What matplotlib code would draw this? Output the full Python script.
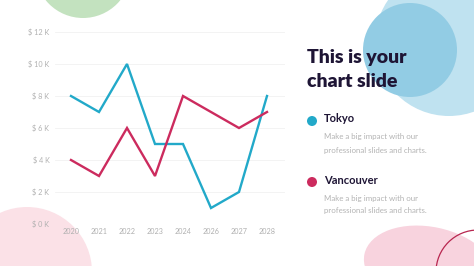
import matplotlib
matplotlib.use("Agg")
import matplotlib.pyplot as plt
from matplotlib.patches import Circle, Ellipse

years = ["2020", "2021", "2022", "2023", "2024", "2026", "2027", "2028"]
tokyo = [8, 7, 10, 5, 5, 1, 2, 8]
vancouver = [4, 3, 6, 3, 8, 7, 6, 7]
y_ticks = [0, 2, 4, 6, 8, 10, 12]
y_labels = ["$ 0 K", "$ 2 K", "$ 4 K", "$ 6 K", "$ 8 K", "$ 10 K", "$ 12 K"]

TOKYO_C = "#22a9c9"
VAN_C = "#cc2b5e"
DARK = "#1e1535"
GRAY = "#b3b3b3"

W, H = 474, 266
fig = plt.figure(figsize=(W / 100, H / 100), dpi=100)
fig.patch.set_facecolor("white")

# background axes in pixel coordinates (y down)
bg = fig.add_axes([0, 0, 1, 1], zorder=0)
bg.set_xlim(0, W)
bg.set_ylim(H, 0)
bg.axis("off")

bg.add_patch(Circle((83, -30), 48, color="#c3e2bf", lw=0))
bg.add_patch(Circle((27, 272), 65, color="#fbe1e7", lw=0))
bg.add_patch(Circle((449, 42), 74, color="#bfe2f0", lw=0))
bg.add_patch(Circle((410, 50), 47, color="#92cce4", lw=0))
bg.add_patch(Ellipse((430, 268), 134, 82, angle=12, color="#f8d3de", lw=0))
bg.add_patch(Circle((478, 272), 42, fill=False, ec="#b8264f", lw=0.9))

# title and legend text
tf = ["Lato", "DejaVu Sans"]
bg.text(307, 63, "This is your", fontsize=14, fontweight="heavy", color=DARK,
        family=tf, va="baseline", ha="left")
bg.text(307, 87, "chart slide", fontsize=14, fontweight="heavy", color=DARK,
        family=tf, va="baseline", ha="left")

for name, col, cy in [("Tokyo", TOKYO_C, 121), ("Vancouver", VAN_C, 182)]:
    bg.add_patch(Circle((312, cy), 5, color=col, lw=0))
    bg.text(324, cy + 1.5, name, fontsize=8, fontweight="bold", color=DARK,
            family=tf, va="baseline", ha="left")
    bg.text(324, cy + 18.5, "Make a big impact with our", fontsize=5.7,
            color=GRAY, family=tf, va="baseline", ha="left")
    bg.text(324, cy + 31.5, "professional slides and charts.", fontsize=5.7,
            color=GRAY, family=tf, va="baseline", ha="left")

# chart axes
left_px, right_px, top_px, bot_px = 55, 285, 32, 224
ax = fig.add_axes([left_px / W, (H - bot_px) / H, (right_px - left_px) / W,
                   (bot_px - top_px) / H], zorder=1)
ax.patch.set_alpha(0)
x = list(range(len(years)))
ax.plot(x, tokyo, color=TOKYO_C, lw=1.7, solid_joinstyle="miter")
ax.plot(x, vancouver, color=VAN_C, lw=1.7, solid_joinstyle="miter")
ax.set_xlim((left_px - 71) / 28, (right_px - 71) / 28)
ax.set_ylim(0, 12)
ax.set_yticks(y_ticks)
ax.set_yticklabels(y_labels)
ax.set_xticks(x)
ax.set_xticklabels(years)
ax.grid(axis="y", color="#f1f1f1", lw=0.6)
ax.set_axisbelow(True)
for s in ax.spines.values():
    s.set_visible(False)
ax.tick_params(length=0, labelsize=5.2, labelcolor="#b0b0b0", pad=3)
ax.tick_params(axis="y", pad=4)
for lab in ax.get_xticklabels() + ax.get_yticklabels():
    lab.set_family(["Lato", "DejaVu Sans"])

fig.savefig("out.png", dpi=100)
